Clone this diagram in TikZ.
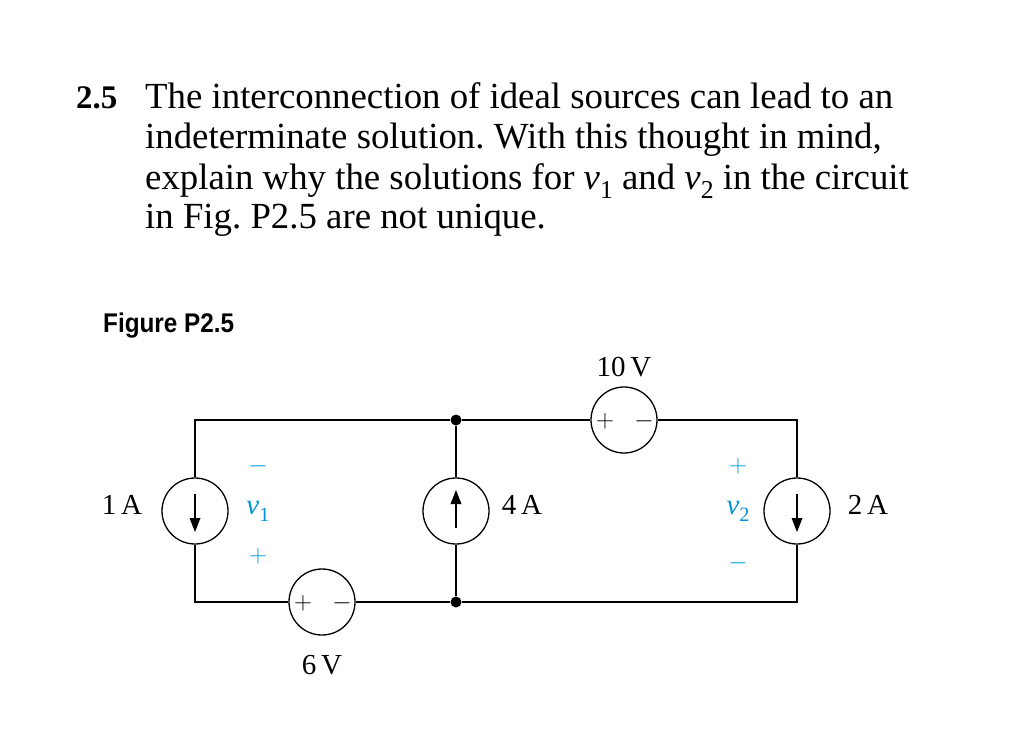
\documentclass[tikz,border=0pt]{standalone}
\usepackage{fontspec}
\setmainfont{Liberation Serif}
\newfontfamily\figfont{Liberation Sans}
\usetikzlibrary{arrows.meta}
\definecolor{vblue}{RGB}{0,150,210}
\newcommand{\vv}[1]{\textit{v}\raisebox{-0.25em}{\scalebox{0.7}{#1}}}
\frenchspacing
\begin{document}
\begin{tikzpicture}[x=1pt,y=-1pt,
  wire/.style={line width=1.3pt},
  src/.style={circle,draw,line width=1.3pt,minimum size=66pt,inner sep=0pt},
  lbl/.style={font=\fontsize{29}{32}\selectfont},
  pm/.style={font=\fontsize{26}{28}\selectfont},
  blu/.style={text=vblue,font=\fontsize{29}{32}\selectfont},
  body/.style={anchor=base west,inner sep=0pt,font=\fontsize{36.8}{40}\selectfont},
  dot/.style={circle,fill,inner sep=0pt,minimum size=11pt}]
\useasboundingbox (0,0) rectangle (1024,750);
% problem text
\node[anchor=base west,inner sep=0pt,font=\fontsize{33}{40}\selectfont\bfseries] (num) at (76,108) {2.5};
\node[body] (l1) at (145,108) {The interconnection of ideal sources can lead to an};
\node[body] (l2) at (145,148) {indeterminate solution. With this thought in mind,};
\node[body] (l3) at (145,189) {explain why the solutions for \vv{1} and \vv{2} in the circuit};
\node[body] (l4) at (145,228) {in Fig. P2.5 are not unique.};
\node[anchor=base west,inner sep=0pt,font=\figfont\bfseries\fontsize{27}{30}\selectfont,xscale=0.9] (fig) at (103,332) {Figure P2.5};
% corners
\coordinate (tl) at (195,420); \coordinate (tr) at (797,420);
\coordinate (bl) at (195,602); \coordinate (br) at (797,602);
\node[dot] (tm) at (456,420) {}; \node[dot] (bm) at (456,602) {};
% sources
\node[src] (s1) at (195,511) {};
\node[src] (s4) at (456,511) {};
\node[src] (s2) at (797,511) {};
\node[src] (s10) at (624,420) {};
\node[src] (s6) at (322,602) {};
% wires
\draw[wire] (s1) -- (tl) -- (tm) -- (s10) -- (tr) -- (s2);
\draw[wire] (s1) -- (bl) -- (s6) -- (bm) -- (br) -- (s2);
\draw[wire] (tm) -- (s4) -- (bm);
% arrows
\draw[wire] (195,494) -- (195,520); \fill (189.5,518) -- (200.5,518) -- (195,532) -- cycle;
\draw[wire] (456,528) -- (456,502); \fill (450.5,504) -- (461.5,504) -- (456,490) -- cycle;
\draw[wire] (797,494) -- (797,520); \fill (791.5,518) -- (802.5,518) -- (797,532) -- cycle;
% signs in voltage sources
\node[pm] at (605,421) {$+$}; \node[pm] at (644,421) {$-$};
\node[pm] at (303,603) {$+$}; \node[pm] at (342,603) {$-$};
% labels
\node[lbl] at (624,367) {10\,V};
\node[lbl] at (322,665) {6\,V};
\node[lbl] at (122,505) {1\,A};
\node[lbl] at (522,505) {4\,A};
\node[lbl] at (868,505) {2\,A};
% v1, v2
\node[blu] at (258,511) {\vv{1}};
\node[pm,text=vblue] at (258,466) {$-$};
\node[pm,text=vblue] at (258,556) {$+$};
\node[blu] at (738,511) {\vv{2}};
\node[pm,text=vblue] at (738,466) {$+$};
\node[pm,text=vblue] at (738,563) {$-$};
\end{tikzpicture}
\end{document}
